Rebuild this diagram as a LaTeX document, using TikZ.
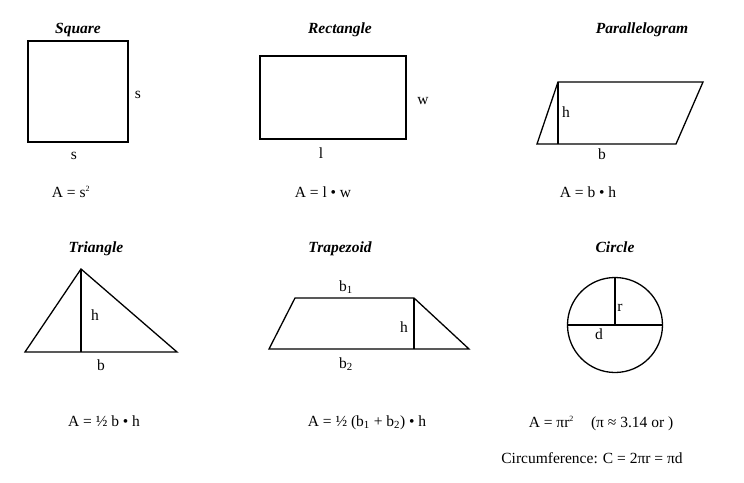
\documentclass[tikz,border=0pt]{standalone}
\usepackage{fontspec}
\setmainfont{Liberation Serif}
\begin{document}
\begin{tikzpicture}[x=1pt,y=-1pt,
  every node/.style={inner sep=0pt,anchor=base,font=\fontsize{15.5}{18}\selectfont},
  title/.style={font=\fontsize{15.5}{18}\selectfont\bfseries\itshape},
  shape line/.style={draw=black,line width=1.3pt,line join=miter},
  thick shape/.style={draw=black,line width=1.9pt}]
\useasboundingbox (0,0) rectangle (744,482);
% ---------- Square
\node[title] (tsq) at (78,33) {Square};
\coordinate (sqA) at (28,41);
\coordinate (sqB) at (128,142);
\draw[thick shape] (sqA) rectangle (sqB);
\node (sqs1) at (138,98) {s};
\node (sqs2) at (74,159) {s};
\node (fsq) at (71,197) {A = s\textsuperscript{\fontsize{8}{9}\selectfont 2}};
% ---------- Rectangle
\node[title] (tre) at (340,33) {Rectangle};
\coordinate (reA) at (260,56);
\coordinate (reB) at (406,139);
\draw[shape line,line width=1.6pt] (reA) rectangle (reB);
\node (rew) at (423,104) {w};
\node (rel) at (321,158) {l};
\node (fre) at (323,197) {A = l • w};
% ---------- Parallelogram
\node[title] (tpa) at (642,33) {Parallelogram};
\coordinate (paBL) at (537,144);
\coordinate (paTL) at (558,82);
\coordinate (paTR) at (703,82);
\coordinate (paBR) at (676,144);
\coordinate (paH) at (558,144);
\draw[shape line] (paBL) -- (paTL) -- (paTR) -- (paBR) -- cycle;
\draw[shape line] (paTL) -- (paH);
\node (pah) at (566,117) {h};
\node (pab) at (602,159) {b};
\node (fpa) at (588,197) {A = b • h};
% ---------- Triangle
\node[title] (ttr) at (96,252) {Triangle};
\coordinate (trBL) at (25,352);
\coordinate (trT) at (81,269);
\coordinate (trBR) at (177,352);
\coordinate (trH) at (81,352);
\draw[shape line] (trBL) -- (trT) -- (trBR) -- cycle;
\draw[shape line] (trT) -- (trH);
\node (trh) at (95,320) {h};
\node (trb) at (101,370) {b};
\node (ftr) at (104,426) {A = ½ b • h};
% ---------- Trapezoid
\node[title] (ttz) at (340,252) {Trapezoid};
\coordinate (tzBL) at (269,349);
\coordinate (tzTL) at (295,298);
\coordinate (tzTR) at (414,298);
\coordinate (tzBR) at (469,349);
\coordinate (tzH) at (414,349);
\draw[shape line] (tzBL) -- (tzTL) -- (tzTR) -- (tzBR) -- cycle;
\draw[shape line] (tzTR) -- (tzH);
\node (tzh) at (404,332) {h};
\node (tzb1) at (346,291) {b\textsubscript{1}};
\node (tzb2) at (346,368) {b\textsubscript{2}};
\node (ftz) at (367,426) {A = ½ (b\textsubscript{1} + b\textsubscript{2}) • h};
% ---------- Circle
\node[title] (tci) at (615,252) {Circle};
\coordinate (ciC) at (615,325);
\coordinate (ciL) at (568,325);
\coordinate (ciR) at (662,325);
\coordinate (ciT) at (615,278);
\draw[shape line] (ciC) circle[radius=47.5];
\draw[shape line] (ciL) -- (ciR);
\draw[shape line] (ciC) -- (ciT);
\node (cir) at (620,311) {r};
\node (cid) at (599,339) {d};
\node (fci) at (601,427) {A = πr\textsuperscript{\fontsize{8}{9}\selectfont 2}\hspace{1.1em}(π ≈ 3.14 or )};
\node (fcc) at (592,463) {Circumference: C = 2πr = πd};
\end{tikzpicture}
\end{document}
